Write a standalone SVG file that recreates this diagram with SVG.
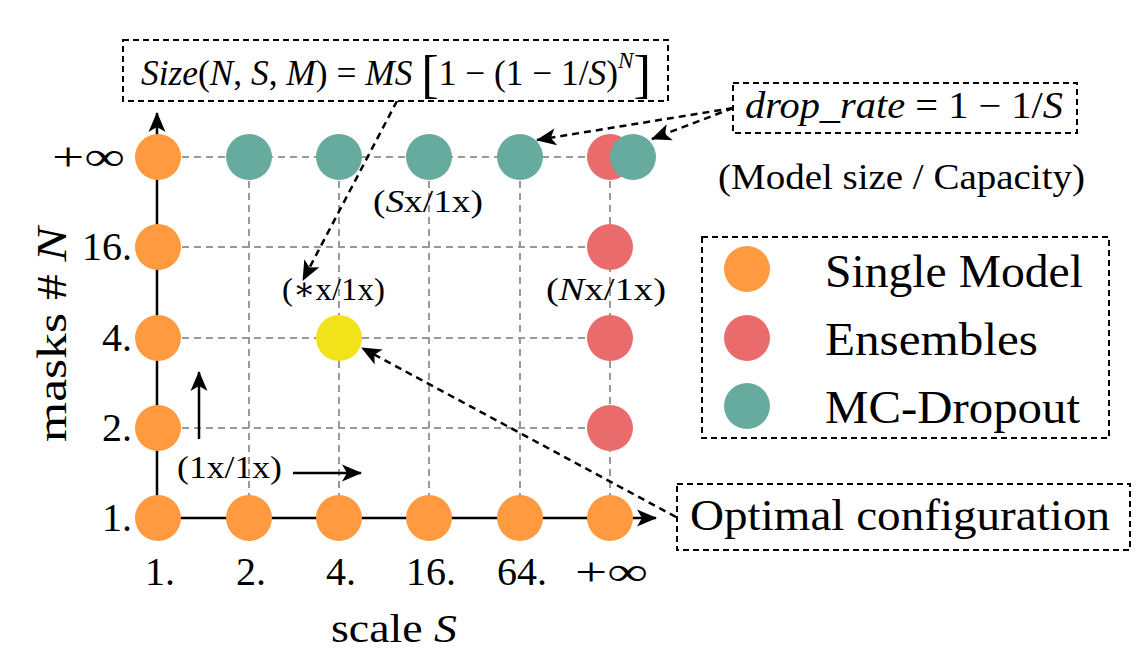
<svg xmlns="http://www.w3.org/2000/svg" width="1146" height="660" viewBox="0 0 1146 660">
<defs>
<style>
.t{font-family:"Liberation Serif","DejaVu Serif",serif;fill:#000}
.i{font-style:italic}
.grid{stroke:#999;stroke-width:2;stroke-dasharray:7 5;fill:none}
.box{fill:#fff;stroke:#000;stroke-width:2;stroke-dasharray:6 4}
.dash{stroke:#000;stroke-width:2.5;stroke-dasharray:7 5;fill:none}
.solid{stroke:#000;stroke-width:2.5;fill:none}
.or{fill:#FF9A40}.rd{fill:#EA6B6B}.tl{fill:#67AB9F}.yl{fill:#F1E31A}
</style>
<marker id="ah" markerUnits="userSpaceOnUse" markerWidth="22" markerHeight="18" refX="19" refY="8.5" orient="auto" overflow="visible">
<path d="M0,0 L20,8.5 L0,17 L5,8.5 z" fill="#000"/>
</marker>
</defs>
<rect width="1146" height="660" fill="#fff"/>

<g id="grid">
<line class="grid" x1="158" y1="157" x2="610" y2="157"/>
<line class="grid" x1="158" y1="247" x2="610" y2="247"/>
<line class="grid" x1="158" y1="338" x2="610" y2="338"/>
<line class="grid" x1="158" y1="428" x2="610" y2="428"/>
<line class="grid" x1="249" y1="157" x2="249" y2="518"/>
<line class="grid" x1="339" y1="157" x2="339" y2="518"/>
<line class="grid" x1="429" y1="157" x2="429" y2="518"/>
<line class="grid" x1="520" y1="157" x2="520" y2="518"/>
<line class="grid" x1="610" y1="157" x2="610" y2="518"/>
</g>

<g id="connectors">
<line class="solid" x1="157" y1="518" x2="157" y2="113" marker-end="url(#ah)"/>
<line class="solid" x1="158" y1="518" x2="656" y2="518" marker-end="url(#ah)"/>
<line class="solid" x1="199" y1="439" x2="199" y2="372" marker-end="url(#ah)"/>
<line class="solid" x1="293" y1="473" x2="361" y2="473" marker-end="url(#ah)"/>
<line class="dash" x1="397" y1="101" x2="303" y2="280" marker-end="url(#ah)"/>
<line class="dash" x1="733" y1="108" x2="537" y2="140" marker-end="url(#ah)"/>
<line class="dash" x1="733" y1="108" x2="652" y2="139" marker-end="url(#ah)"/>
<line class="dash" x1="676" y1="517" x2="362" y2="348" marker-end="url(#ah)"/>
</g>

<g id="nodes">
<g id="n-single"><circle class="or" cx="158" cy="157" r="23"/><circle class="or" cx="158" cy="247" r="23"/><circle class="or" cx="158" cy="338" r="23"/><circle class="or" cx="158" cy="428" r="23"/><circle class="or" cx="158" cy="518" r="23"/><circle class="or" cx="249" cy="518" r="23"/><circle class="or" cx="339" cy="518" r="23"/><circle class="or" cx="429" cy="518" r="23"/><circle class="or" cx="520" cy="518" r="23"/><circle class="or" cx="610" cy="518" r="23"/></g>
<g id="n-ens"><circle class="rd" cx="610" cy="157" r="23"/><circle class="rd" cx="610" cy="247" r="23"/><circle class="rd" cx="610" cy="338" r="23"/><circle class="rd" cx="610" cy="428" r="23"/></g>
<g id="n-mc"><circle class="tl" cx="249" cy="157" r="23"/><circle class="tl" cx="339" cy="157" r="23"/><circle class="tl" cx="429" cy="157" r="23"/><circle class="tl" cx="520" cy="157" r="23"/><circle class="tl" cx="633" cy="157" r="23"/></g>
<g id="n-opt"><circle class="yl" cx="339" cy="338" r="23"/></g>
</g>

<g id="formula">
<rect class="box" x="123" y="40" width="545" height="61"/>
<text class="t" x="141" y="85" font-size="35" textLength="510" lengthAdjust="spacingAndGlyphs"><tspan class="i">Size</tspan>(<tspan class="i">N</tspan>, <tspan class="i">S</tspan>, <tspan class="i">M</tspan>) = <tspan class="i">MS</tspan> <tspan font-size="52" dy="7">[</tspan><tspan dy="-7">1 − (1 − 1/</tspan><tspan class="i">S</tspan>)<tspan class="i" font-size="23" dy="-17">N</tspan><tspan font-size="52" dy="24">]</tspan></text>
</g>

<g id="droprate">
<rect class="box" x="733" y="83" width="344" height="50"/>
<text class="t" x="745" y="118" font-size="37" textLength="318" lengthAdjust="spacingAndGlyphs"><tspan class="i">drop_rate</tspan> = 1 − 1/<tspan class="i">S</tspan></text>
</g>
<text class="t" x="718" y="189" font-size="35" textLength="367" lengthAdjust="spacingAndGlyphs">(Model size / Capacity)</text>

<g id="legend">
<rect class="box" x="702" y="237" width="407" height="201"/>
<circle class="or" cx="747" cy="269" r="23"/>
<circle class="rd" cx="747" cy="338" r="23"/>
<circle class="tl" cx="747" cy="406" r="23"/>
<text class="t" x="825" y="287" font-size="46" textLength="258" lengthAdjust="spacingAndGlyphs">Single Model</text>
<text class="t" x="825" y="355" font-size="46" textLength="213" lengthAdjust="spacingAndGlyphs">Ensembles</text>
<text class="t" x="825" y="423" font-size="46" textLength="255" lengthAdjust="spacingAndGlyphs">MC-Dropout</text>
</g>

<g id="optimal">
<rect class="box" x="677" y="484" width="453" height="66"/>
<text class="t" x="690" y="530" font-size="45" textLength="420" lengthAdjust="spacingAndGlyphs">Optimal configuration</text>
</g>

<g id="labels">
<text class="t" x="373" y="212" font-size="32" textLength="110" lengthAdjust="spacingAndGlyphs">(<tspan class="i">S</tspan>x/1x)</text>
<text class="t" x="282" y="300" font-size="32" textLength="103" lengthAdjust="spacingAndGlyphs">(∗x/1x)</text>
<text class="t" x="546" y="300" font-size="32" textLength="120" lengthAdjust="spacingAndGlyphs">(<tspan class="i">N</tspan>x/1x)</text>
<text class="t" x="177" y="478" font-size="32" textLength="105" lengthAdjust="spacingAndGlyphs">(1x/1x)</text>
</g>

<g id="axes-text">
<text class="t" x="52" y="170" font-size="40" textLength="73" lengthAdjust="spacingAndGlyphs">+∞</text>
<text class="t" x="132" y="260" font-size="40" text-anchor="end">16.</text>
<text class="t" x="132" y="351" font-size="40" text-anchor="end">4.</text>
<text class="t" x="132" y="441" font-size="40" text-anchor="end">2.</text>
<text class="t" x="132" y="531" font-size="40" text-anchor="end">1.</text>
<text class="t" x="160" y="585" font-size="40" text-anchor="middle">1.</text>
<text class="t" x="251" y="585" font-size="40" text-anchor="middle">2.</text>
<text class="t" x="341" y="585" font-size="40" text-anchor="middle">4.</text>
<text class="t" x="431" y="585" font-size="40" text-anchor="middle">16.</text>
<text class="t" x="522" y="585" font-size="40" text-anchor="middle">64.</text>
<text class="t" x="575" y="585" font-size="40" textLength="73" lengthAdjust="spacingAndGlyphs">+∞</text>
<text class="t" x="331" y="642" font-size="40" textLength="126" lengthAdjust="spacingAndGlyphs">scale <tspan class="i">S</tspan></text>
<text class="t" transform="translate(66,442) rotate(-90)" font-size="42" textLength="215" lengthAdjust="spacingAndGlyphs">masks # <tspan class="i">N</tspan></text>
</g>
</svg>
